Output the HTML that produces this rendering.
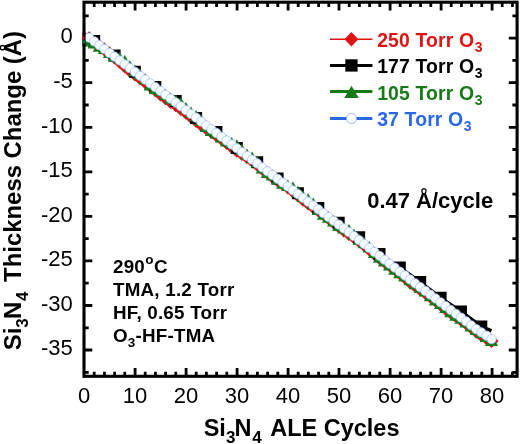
<!DOCTYPE html>
<html lang="en"><head><meta charset="utf-8"><title>Si3N4 ALE</title>
<style>html,body{margin:0;padding:0;background:#fff}svg{display:block}text{font-family:"Liberation Sans",Arial,sans-serif;fill:#000}.b{font-weight:bold}.tk{font-size:22px}</style></head><body>
<svg width="520" height="444" viewBox="0 0 520 444">
<rect width="520" height="444" fill="#fff"/>
<defs><clipPath id="cp"><rect x="82.4" y="0" width="438" height="380"/></clipPath></defs>
<path d="M94.2 2.2v4.7M94.2 376.4v-4.7M104.4 2.2v4.7M104.4 376.4v-4.7M114.6 2.2v4.7M114.6 376.4v-4.7M124.8 2.2v4.7M124.8 376.4v-4.7M135.1 2.2v8.3M135.1 376.4v-8.3M145.2 2.2v4.7M145.2 376.4v-4.7M155.4 2.2v4.7M155.4 376.4v-4.7M165.6 2.2v4.7M165.6 376.4v-4.7M175.8 2.2v4.7M175.8 376.4v-4.7M186.1 2.2v8.3M186.1 376.4v-8.3M196.2 2.2v4.7M196.2 376.4v-4.7M206.4 2.2v4.7M206.4 376.4v-4.7M216.6 2.2v4.7M216.6 376.4v-4.7M226.8 2.2v4.7M226.8 376.4v-4.7M237.1 2.2v8.3M237.1 376.4v-8.3M247.2 2.2v4.7M247.2 376.4v-4.7M257.4 2.2v4.7M257.4 376.4v-4.7M267.6 2.2v4.7M267.6 376.4v-4.7M277.8 2.2v4.7M277.8 376.4v-4.7M288.1 2.2v8.3M288.1 376.4v-8.3M298.2 2.2v4.7M298.2 376.4v-4.7M308.4 2.2v4.7M308.4 376.4v-4.7M318.6 2.2v4.7M318.6 376.4v-4.7M328.8 2.2v4.7M328.8 376.4v-4.7M339.0 2.2v8.3M339.0 376.4v-8.3M349.2 2.2v4.7M349.2 376.4v-4.7M359.4 2.2v4.7M359.4 376.4v-4.7M369.6 2.2v4.7M369.6 376.4v-4.7M379.8 2.2v4.7M379.8 376.4v-4.7M390.1 2.2v8.3M390.1 376.4v-8.3M400.2 2.2v4.7M400.2 376.4v-4.7M410.4 2.2v4.7M410.4 376.4v-4.7M420.6 2.2v4.7M420.6 376.4v-4.7M430.8 2.2v4.7M430.8 376.4v-4.7M441.1 2.2v8.3M441.1 376.4v-8.3M451.2 2.2v4.7M451.2 376.4v-4.7M461.4 2.2v4.7M461.4 376.4v-4.7M471.6 2.2v4.7M471.6 376.4v-4.7M481.8 2.2v4.7M481.8 376.4v-4.7M492.1 2.2v8.3M492.1 376.4v-8.3M502.2 2.2v4.7M502.2 376.4v-4.7M512.4 2.2v4.7M512.4 376.4v-4.7M84.0 372.3h4.7M517.1 372.3h-4.7M84.0 350.0h8.3M517.1 350.0h-8.3M84.0 327.8h4.7M517.1 327.8h-4.7M84.0 305.5h8.3M517.1 305.5h-8.3M84.0 283.2h4.7M517.1 283.2h-4.7M84.0 260.9h8.3M517.1 260.9h-8.3M84.0 238.6h4.7M517.1 238.6h-4.7M84.0 216.4h8.3M517.1 216.4h-8.3M84.0 194.1h4.7M517.1 194.1h-4.7M84.0 171.8h8.3M517.1 171.8h-8.3M84.0 149.5h4.7M517.1 149.5h-4.7M84.0 127.3h8.3M517.1 127.3h-8.3M84.0 105.0h4.7M517.1 105.0h-4.7M84.0 82.7h8.3M517.1 82.7h-8.3M84.0 60.4h4.7M517.1 60.4h-4.7M84.0 38.1h8.3M517.1 38.1h-8.3M84.0 15.9h4.7M517.1 15.9h-4.7" stroke="#000" stroke-width="2.8" fill="none"/>
<g clip-path="url(#cp)">
<polyline points="84.0,37.9 89.1,38.2 94.2,42.1 99.3,45.7 104.4,49.4 109.5,53.3 114.6,57.5 119.7,62.0 124.8,66.5 129.8,70.7 134.9,74.6 140.0,78.3 145.1,82.2 150.2,86.1 155.3,90.3 160.4,94.4 165.5,98.3 170.6,101.9 175.7,105.3 180.8,108.9 185.9,112.8 191.0,117.0 196.1,121.1 201.2,125.0 206.3,128.6 211.4,132.0 216.4,135.4 221.5,139.1 226.6,143.1 231.7,147.0 236.8,150.7 241.9,154.0 247.0,157.2 252.1,160.8 257.2,164.7 262.3,168.9 267.4,173.1 272.5,176.9 277.6,180.5 282.7,183.9 287.8,187.5 292.9,191.4 297.9,195.6 303.0,199.8 308.1,203.6 313.2,207.2 318.3,210.6 323.4,214.2 328.5,218.2 333.6,222.4 338.7,226.5 343.8,230.4 348.9,233.9 354.0,237.4 359.1,241.2 364.2,245.2 369.3,249.6 374.4,254.0 379.5,258.0 384.5,261.8 389.6,265.4 394.7,269.3 399.8,273.4 404.9,277.8 410.0,282.2 415.1,286.1 420.2,289.6 425.3,293.1 430.4,296.7 435.5,300.6 440.6,304.8 445.7,309.0 450.8,312.8 455.9,316.3 461.0,319.8 466.1,323.4 471.1,327.4 476.2,331.6 481.3,335.2 486.4,338.3 491.5,341.0" fill="none" stroke="#de1414" stroke-width="1.5"/>
<path d="M84.0 30.9l7 7l-7 7l-7 -7zM89.1 31.2l7 7l-7 7l-7 -7zM94.2 35.1l7 7l-7 7l-7 -7zM99.3 38.7l7 7l-7 7l-7 -7zM104.4 42.4l7 7l-7 7l-7 -7zM109.5 46.3l7 7l-7 7l-7 -7zM114.6 50.5l7 7l-7 7l-7 -7zM119.7 55.0l7 7l-7 7l-7 -7zM124.8 59.5l7 7l-7 7l-7 -7zM129.8 63.7l7 7l-7 7l-7 -7zM134.9 67.6l7 7l-7 7l-7 -7zM140.0 71.3l7 7l-7 7l-7 -7zM145.1 75.2l7 7l-7 7l-7 -7zM150.2 79.1l7 7l-7 7l-7 -7zM155.3 83.3l7 7l-7 7l-7 -7zM160.4 87.4l7 7l-7 7l-7 -7zM165.5 91.3l7 7l-7 7l-7 -7zM170.6 94.9l7 7l-7 7l-7 -7zM175.7 98.3l7 7l-7 7l-7 -7zM180.8 101.9l7 7l-7 7l-7 -7zM185.9 105.8l7 7l-7 7l-7 -7zM191.0 110.0l7 7l-7 7l-7 -7zM196.1 114.1l7 7l-7 7l-7 -7zM201.2 118.0l7 7l-7 7l-7 -7zM206.3 121.6l7 7l-7 7l-7 -7zM211.4 125.0l7 7l-7 7l-7 -7zM216.4 128.4l7 7l-7 7l-7 -7zM221.5 132.1l7 7l-7 7l-7 -7zM226.6 136.1l7 7l-7 7l-7 -7zM231.7 140.0l7 7l-7 7l-7 -7zM236.8 143.7l7 7l-7 7l-7 -7zM241.9 147.0l7 7l-7 7l-7 -7zM247.0 150.2l7 7l-7 7l-7 -7zM252.1 153.8l7 7l-7 7l-7 -7zM257.2 157.7l7 7l-7 7l-7 -7zM262.3 161.9l7 7l-7 7l-7 -7zM267.4 166.1l7 7l-7 7l-7 -7zM272.5 169.9l7 7l-7 7l-7 -7zM277.6 173.5l7 7l-7 7l-7 -7zM282.7 176.9l7 7l-7 7l-7 -7zM287.8 180.5l7 7l-7 7l-7 -7zM292.9 184.4l7 7l-7 7l-7 -7zM297.9 188.6l7 7l-7 7l-7 -7zM303.0 192.8l7 7l-7 7l-7 -7zM308.1 196.6l7 7l-7 7l-7 -7zM313.2 200.2l7 7l-7 7l-7 -7zM318.3 203.6l7 7l-7 7l-7 -7zM323.4 207.2l7 7l-7 7l-7 -7zM328.5 211.2l7 7l-7 7l-7 -7zM333.6 215.4l7 7l-7 7l-7 -7zM338.7 219.5l7 7l-7 7l-7 -7zM343.8 223.4l7 7l-7 7l-7 -7zM348.9 226.9l7 7l-7 7l-7 -7zM354.0 230.4l7 7l-7 7l-7 -7zM359.1 234.2l7 7l-7 7l-7 -7zM364.2 238.2l7 7l-7 7l-7 -7zM369.3 242.6l7 7l-7 7l-7 -7zM374.4 247.0l7 7l-7 7l-7 -7zM379.5 251.0l7 7l-7 7l-7 -7zM384.5 254.8l7 7l-7 7l-7 -7zM389.6 258.4l7 7l-7 7l-7 -7zM394.7 262.3l7 7l-7 7l-7 -7zM399.8 266.4l7 7l-7 7l-7 -7zM404.9 270.8l7 7l-7 7l-7 -7zM410.0 275.2l7 7l-7 7l-7 -7zM415.1 279.1l7 7l-7 7l-7 -7zM420.2 282.6l7 7l-7 7l-7 -7zM425.3 286.1l7 7l-7 7l-7 -7zM430.4 289.7l7 7l-7 7l-7 -7zM435.5 293.6l7 7l-7 7l-7 -7zM440.6 297.8l7 7l-7 7l-7 -7zM445.7 302.0l7 7l-7 7l-7 -7zM450.8 305.8l7 7l-7 7l-7 -7zM455.9 309.3l7 7l-7 7l-7 -7zM461.0 312.8l7 7l-7 7l-7 -7zM466.1 316.4l7 7l-7 7l-7 -7zM471.1 320.4l7 7l-7 7l-7 -7zM476.2 324.6l7 7l-7 7l-7 -7zM481.3 328.2l7 7l-7 7l-7 -7zM486.4 331.3l7 7l-7 7l-7 -7zM491.5 334.0l7 7l-7 7l-7 -7z" fill="#de1414"/>
<polyline points="84.0,35.4 89.1,38.1 94.2,40.9 99.3,44.5 104.4,48.2 109.5,51.8 114.6,55.5 119.7,59.5 124.8,63.6 129.8,67.7 134.9,71.8 140.0,75.6 145.1,79.3 150.2,83.1 155.3,86.9 160.4,90.4 165.5,94.0 170.6,97.5 175.7,101.1 180.8,105.3 185.9,109.6 191.0,113.9 196.1,118.1 201.2,121.6 206.3,125.0 211.4,128.4 216.4,131.9 221.5,135.9 226.6,140.0 231.7,144.1 236.8,148.1 241.9,151.6 247.0,155.2 252.1,158.7 257.2,162.2 262.3,166.3 267.4,170.4 272.5,174.5 277.6,178.6 282.7,182.3 287.8,186.0 292.9,189.6 297.9,193.3 303.0,197.0 308.1,200.7 313.2,204.4 318.3,208.1 323.4,211.8 328.5,215.4 333.6,219.1 338.7,222.7 343.8,226.4 348.9,230.0 354.0,233.7 359.1,237.3 364.2,241.5 369.3,245.7 374.4,249.9 379.5,254.1 384.5,257.4 389.6,260.8 394.7,264.1 399.8,267.5 404.9,271.1 410.0,274.7 415.1,278.4 420.2,282.0 425.3,286.0 430.4,289.9 435.5,293.9 440.6,297.8 445.7,301.2 450.8,304.6 455.9,308.0 461.0,311.4 466.1,315.1 471.1,318.9 476.2,322.6 481.3,326.4 486.4,328.6 491.5,330.9" fill="none" stroke="#000" stroke-width="3.4"/>
<path d="M88.2 34.9h12v12h-12zM108.6 49.5h12v12h-12zM128.9 65.8h12v12h-12zM149.3 80.9h12v12h-12zM169.7 95.1h12v12h-12zM190.1 112.1h12v12h-12zM210.4 125.9h12v12h-12zM230.8 142.1h12v12h-12zM251.2 156.2h12v12h-12zM271.6 172.6h12v12h-12zM291.9 187.3h12v12h-12zM312.3 202.1h12v12h-12zM332.7 216.7h12v12h-12zM353.1 231.3h12v12h-12zM373.5 248.1h12v12h-12zM393.8 261.5h12v12h-12zM414.2 276.0h12v12h-12zM434.6 291.8h12v12h-12zM455.0 305.4h12v12h-12zM475.3 320.4h12v12h-12z" fill="#000"/>
<polyline points="84.0,40.7 89.1,37.2 94.2,42.8 99.3,46.0 104.4,48.3 109.5,52.2 114.6,55.8 119.7,57.7 124.8,60.6 129.8,65.8 134.9,70.4 140.0,73.8 145.1,78.7 150.2,84.6 155.3,88.1 160.4,90.5 165.5,94.4 170.6,98.2 175.7,100.1 180.8,102.6 185.9,107.6 191.0,112.2 196.1,115.5 201.2,120.2 206.3,126.2 211.4,130.2 216.4,132.7 221.5,136.6 226.6,140.6 231.7,142.6 236.8,144.8 241.9,149.4 247.0,154.0 252.1,157.2 257.2,161.7 262.3,167.8 267.4,172.1 272.5,174.8 277.6,178.8 282.7,183.0 287.8,185.1 292.9,187.0 297.9,191.3 303.0,195.9 308.1,198.9 313.2,203.2 318.3,209.3 323.4,214.0 328.5,216.9 333.6,220.8 338.7,225.3 343.8,227.8 348.9,229.7 354.0,234.1 359.1,238.9 364.2,242.4 369.3,246.7 374.4,252.3 379.5,257.0 384.5,260.6 389.6,264.7 394.7,269.0 399.8,272.5 404.9,275.6 410.0,279.5 415.1,283.5 420.2,287.0 425.3,290.8 430.4,295.4 435.5,299.7 440.6,303.3 445.7,307.2 450.8,311.4 455.9,314.9 461.0,318.0 466.1,321.7 471.1,325.7 476.2,329.2 481.3,332.4 486.4,336.3 491.5,340.1" fill="none" stroke="#177a17" stroke-width="3"/>
<path d="M84.0 35.1l6.6 11.4h-13.2zM89.1 31.6l6.6 11.4h-13.2zM94.2 37.2l6.6 11.4h-13.2zM99.3 40.4l6.6 11.4h-13.2zM104.4 42.7l6.6 11.4h-13.2zM109.5 46.6l6.6 11.4h-13.2zM114.6 50.2l6.6 11.4h-13.2zM119.7 52.1l6.6 11.4h-13.2zM124.8 55.0l6.6 11.4h-13.2zM129.8 60.2l6.6 11.4h-13.2zM134.9 64.8l6.6 11.4h-13.2zM140.0 68.2l6.6 11.4h-13.2zM145.1 73.1l6.6 11.4h-13.2zM150.2 79.0l6.6 11.4h-13.2zM155.3 82.5l6.6 11.4h-13.2zM160.4 84.9l6.6 11.4h-13.2zM165.5 88.8l6.6 11.4h-13.2zM170.6 92.6l6.6 11.4h-13.2zM175.7 94.5l6.6 11.4h-13.2zM180.8 97.0l6.6 11.4h-13.2zM185.9 102.0l6.6 11.4h-13.2zM191.0 106.6l6.6 11.4h-13.2zM196.1 109.9l6.6 11.4h-13.2zM201.2 114.6l6.6 11.4h-13.2zM206.3 120.6l6.6 11.4h-13.2zM211.4 124.6l6.6 11.4h-13.2zM216.4 127.1l6.6 11.4h-13.2zM221.5 131.0l6.6 11.4h-13.2zM226.6 135.0l6.6 11.4h-13.2zM231.7 137.0l6.6 11.4h-13.2zM236.8 139.2l6.6 11.4h-13.2zM241.9 143.8l6.6 11.4h-13.2zM247.0 148.4l6.6 11.4h-13.2zM252.1 151.6l6.6 11.4h-13.2zM257.2 156.1l6.6 11.4h-13.2zM262.3 162.2l6.6 11.4h-13.2zM267.4 166.5l6.6 11.4h-13.2zM272.5 169.2l6.6 11.4h-13.2zM277.6 173.2l6.6 11.4h-13.2zM282.7 177.4l6.6 11.4h-13.2zM287.8 179.5l6.6 11.4h-13.2zM292.9 181.4l6.6 11.4h-13.2zM297.9 185.7l6.6 11.4h-13.2zM303.0 190.3l6.6 11.4h-13.2zM308.1 193.3l6.6 11.4h-13.2zM313.2 197.6l6.6 11.4h-13.2zM318.3 203.7l6.6 11.4h-13.2zM323.4 208.4l6.6 11.4h-13.2zM328.5 211.3l6.6 11.4h-13.2zM333.6 215.2l6.6 11.4h-13.2zM338.7 219.7l6.6 11.4h-13.2zM343.8 222.2l6.6 11.4h-13.2zM348.9 224.1l6.6 11.4h-13.2zM354.0 228.5l6.6 11.4h-13.2zM359.1 233.3l6.6 11.4h-13.2zM364.2 236.8l6.6 11.4h-13.2zM369.3 241.1l6.6 11.4h-13.2zM374.4 246.7l6.6 11.4h-13.2zM379.5 251.4l6.6 11.4h-13.2zM384.5 255.0l6.6 11.4h-13.2zM389.6 259.1l6.6 11.4h-13.2zM394.7 263.4l6.6 11.4h-13.2zM399.8 266.9l6.6 11.4h-13.2zM404.9 270.0l6.6 11.4h-13.2zM410.0 273.9l6.6 11.4h-13.2zM415.1 277.9l6.6 11.4h-13.2zM420.2 281.4l6.6 11.4h-13.2zM425.3 285.2l6.6 11.4h-13.2zM430.4 289.8l6.6 11.4h-13.2zM435.5 294.1l6.6 11.4h-13.2zM440.6 297.7l6.6 11.4h-13.2zM445.7 301.6l6.6 11.4h-13.2zM450.8 305.8l6.6 11.4h-13.2zM455.9 309.3l6.6 11.4h-13.2zM461.0 312.4l6.6 11.4h-13.2zM466.1 316.1l6.6 11.4h-13.2zM471.1 320.1l6.6 11.4h-13.2zM476.2 323.6l6.6 11.4h-13.2zM481.3 326.8l6.6 11.4h-13.2zM486.4 330.7l6.6 11.4h-13.2zM491.5 334.5l6.6 11.4h-13.2z" fill="#177a17"/>
<polyline points="89.1,37.6 94.2,41.4 99.3,45.2 104.4,49.0 109.5,52.9 114.6,56.7 119.7,60.5 124.8,64.3 129.8,68.1 134.9,71.9 140.0,75.8 145.1,79.6 150.2,83.4 155.3,87.2 160.4,91.0 165.5,94.8 170.6,98.7 175.7,102.5 180.8,106.3 185.9,110.1 191.0,113.9 196.1,117.7 201.2,121.6 206.3,125.4 211.4,129.2 216.4,133.0 221.5,136.8 226.6,140.6 231.7,144.5 236.8,148.3 241.9,152.1 247.0,155.9 252.1,159.7 257.2,163.5 262.3,167.4 267.4,171.2 272.5,175.0 277.6,178.8 282.7,182.6 287.8,186.4 292.9,190.3 297.9,194.1 303.0,197.9 308.1,201.7 313.2,205.5 318.3,209.3 323.4,213.1 328.5,217.0 333.6,220.8 338.7,224.6 343.8,228.4 348.9,232.2 354.0,236.2 359.1,240.1 364.2,244.0 369.3,248.0 374.4,251.9 379.5,255.8 384.5,259.8 389.6,263.7 394.7,267.6 399.8,271.6 404.9,275.5 410.0,279.5 415.1,283.3 420.2,287.1 425.3,290.9 430.4,294.7 435.5,298.5 440.6,302.4 445.7,306.2 450.8,310.0 455.9,313.8 461.0,317.6 466.1,321.4 471.1,325.3 476.2,329.1 481.3,332.4 486.4,335.7 491.5,339.1" fill="none" stroke="#2868e6" stroke-width="3"/>
<g fill="#f3fcff" stroke="#aab6ff" stroke-width="0.7">
<circle cx="89.1" cy="37.6" r="4.65"/>
<circle cx="94.2" cy="41.4" r="4.65"/>
<circle cx="99.3" cy="45.2" r="4.65"/>
<circle cx="104.4" cy="49.0" r="4.65"/>
<circle cx="109.5" cy="52.9" r="4.65"/>
<circle cx="114.6" cy="56.7" r="4.65"/>
<circle cx="119.7" cy="60.5" r="4.65"/>
<circle cx="124.8" cy="64.3" r="4.65"/>
<circle cx="129.8" cy="68.1" r="4.65"/>
<circle cx="134.9" cy="71.9" r="4.65"/>
<circle cx="140.0" cy="75.8" r="4.65"/>
<circle cx="145.1" cy="79.6" r="4.65"/>
<circle cx="150.2" cy="83.4" r="4.65"/>
<circle cx="155.3" cy="87.2" r="4.65"/>
<circle cx="160.4" cy="91.0" r="4.65"/>
<circle cx="165.5" cy="94.8" r="4.65"/>
<circle cx="170.6" cy="98.7" r="4.65"/>
<circle cx="175.7" cy="102.5" r="4.65"/>
<circle cx="180.8" cy="106.3" r="4.65"/>
<circle cx="185.9" cy="110.1" r="4.65"/>
<circle cx="191.0" cy="113.9" r="4.65"/>
<circle cx="196.1" cy="117.7" r="4.65"/>
<circle cx="201.2" cy="121.6" r="4.65"/>
<circle cx="206.3" cy="125.4" r="4.65"/>
<circle cx="211.4" cy="129.2" r="4.65"/>
<circle cx="216.4" cy="133.0" r="4.65"/>
<circle cx="221.5" cy="136.8" r="4.65"/>
<circle cx="226.6" cy="140.6" r="4.65"/>
<circle cx="231.7" cy="144.5" r="4.65"/>
<circle cx="236.8" cy="148.3" r="4.65"/>
<circle cx="241.9" cy="152.1" r="4.65"/>
<circle cx="247.0" cy="155.9" r="4.65"/>
<circle cx="252.1" cy="159.7" r="4.65"/>
<circle cx="257.2" cy="163.5" r="4.65"/>
<circle cx="262.3" cy="167.4" r="4.65"/>
<circle cx="267.4" cy="171.2" r="4.65"/>
<circle cx="272.5" cy="175.0" r="4.65"/>
<circle cx="277.6" cy="178.8" r="4.65"/>
<circle cx="282.7" cy="182.6" r="4.65"/>
<circle cx="287.8" cy="186.4" r="4.65"/>
<circle cx="292.9" cy="190.3" r="4.65"/>
<circle cx="297.9" cy="194.1" r="4.65"/>
<circle cx="303.0" cy="197.9" r="4.65"/>
<circle cx="308.1" cy="201.7" r="4.65"/>
<circle cx="313.2" cy="205.5" r="4.65"/>
<circle cx="318.3" cy="209.3" r="4.65"/>
<circle cx="323.4" cy="213.1" r="4.65"/>
<circle cx="328.5" cy="217.0" r="4.65"/>
<circle cx="333.6" cy="220.8" r="4.65"/>
<circle cx="338.7" cy="224.6" r="4.65"/>
<circle cx="343.8" cy="228.4" r="4.65"/>
<circle cx="348.9" cy="232.2" r="4.65"/>
<circle cx="354.0" cy="236.2" r="4.65"/>
<circle cx="359.1" cy="240.1" r="4.65"/>
<circle cx="364.2" cy="244.0" r="4.65"/>
<circle cx="369.3" cy="248.0" r="4.65"/>
<circle cx="374.4" cy="251.9" r="4.65"/>
<circle cx="379.5" cy="255.8" r="4.65"/>
<circle cx="384.5" cy="259.8" r="4.65"/>
<circle cx="389.6" cy="263.7" r="4.65"/>
<circle cx="394.7" cy="267.6" r="4.65"/>
<circle cx="399.8" cy="271.6" r="4.65"/>
<circle cx="404.9" cy="275.5" r="4.65"/>
<circle cx="410.0" cy="279.5" r="4.65"/>
<circle cx="415.1" cy="283.3" r="4.65"/>
<circle cx="420.2" cy="287.1" r="4.65"/>
<circle cx="425.3" cy="290.9" r="4.65"/>
<circle cx="430.4" cy="294.7" r="4.65"/>
<circle cx="435.5" cy="298.5" r="4.65"/>
<circle cx="440.6" cy="302.4" r="4.65"/>
<circle cx="445.7" cy="306.2" r="4.65"/>
<circle cx="450.8" cy="310.0" r="4.65"/>
<circle cx="455.9" cy="313.8" r="4.65"/>
<circle cx="461.0" cy="317.6" r="4.65"/>
<circle cx="466.1" cy="321.4" r="4.65"/>
<circle cx="471.1" cy="325.3" r="4.65"/>
<circle cx="476.2" cy="329.1" r="4.65"/>
<circle cx="481.3" cy="332.4" r="4.65"/>
<circle cx="486.4" cy="335.7" r="4.65"/>
<circle cx="491.5" cy="339.1" r="4.65"/>
</g></g>
<rect x="84.0" y="2.2" width="433.1" height="374.1" fill="none" stroke="#000" stroke-width="3.1"/>
<rect x="82.3" y="36.2" width="1.9" height="3.4" fill="#c4122c"/><rect x="82.4" y="40.3" width="3" height="3.2" fill="#0c6c2a"/>
<g class="tk" text-anchor="middle">
<text x="84.0" y="402.6">0</text>
<text x="135.1" y="402.6">10</text>
<text x="186.1" y="402.6">20</text>
<text x="237.1" y="402.6">30</text>
<text x="288.1" y="402.6">40</text>
<text x="339.0" y="402.6">50</text>
<text x="390.1" y="402.6">60</text>
<text x="441.1" y="402.6">70</text>
<text x="492.1" y="402.6">80</text>
</g><g class="tk" text-anchor="end">
<text x="72.8" y="43.4">0</text>
<text x="72.8" y="88.0">-5</text>
<text x="72.8" y="132.6">-10</text>
<text x="72.8" y="177.1">-15</text>
<text x="72.8" y="221.7">-20</text>
<text x="72.8" y="266.2">-25</text>
<text x="72.8" y="310.8">-30</text>
<text x="72.8" y="355.3">-35</text>
</g>
<text class="b" x="203.7" y="436.2" font-size="23.50">Si<tspan font-size="17" dy="6.8" dx="0">3</tspan><tspan dy="-6.8" dx="-0.8">N</tspan><tspan font-size="17" dy="6.8" dx="0.8">4</tspan><tspan dy="-6.8" dx="2.7"> ALE Cycles</tspan></text>
<text class="b" x="20.8" y="350.3" font-size="23.90" transform="rotate(-90 20.8 350.3)">Si<tspan font-size="17" dy="6.8" dx="0">3</tspan><tspan dy="-6.8" dx="-0.8">N</tspan><tspan font-size="17" dy="6.8" dx="0.8">4</tspan><tspan dy="-6.8" dx="3.0"> Thickness Change (Å)</tspan></text>
<path d="M330 39.2H372.4" stroke="#de1414" stroke-width="1.5"/>
<path d="M351.4 32.0l7 7.2l-7 7.2l-7 -7.2z" fill="#de1414"/>
<text class="b" x="377.2" y="47.1" font-size="19.4" letter-spacing="0.15" style="fill:#de1414">250 Torr O<tspan font-size="14" dy="5" dx="0.5">3</tspan></text>
<path d="M330 65.4H372.4" stroke="#000" stroke-width="3.0"/>
<rect x="345.3" y="59.3" width="12.3" height="12.3" fill="#000"/>
<text class="b" x="377.2" y="73.1" font-size="19.4" letter-spacing="0.15" style="fill:#000">177 Torr O<tspan font-size="14" dy="5" dx="0.5">3</tspan></text>
<path d="M330 91.5H372.4" stroke="#177a17" stroke-width="3.0"/>
<path d="M351.5 85.8l7.3 12.2h-14.6z" fill="#177a17"/>
<text class="b" x="377.2" y="99.8" font-size="19.4" letter-spacing="0.15" style="fill:#177a17">105 Torr O<tspan font-size="14" dy="5" dx="0.5">3</tspan></text>
<path d="M330 118.5H372.4" stroke="#2868e6" stroke-width="3.0"/>
<circle cx="351.5" cy="118.5" r="5" fill="#fff" stroke="#93a9ff" stroke-width="0.9"/>
<text class="b" x="377.2" y="126.0" font-size="19.4" letter-spacing="0.15" style="fill:#2868e6">37 Torr O<tspan font-size="14" dy="5" dx="0.5">3</tspan></text>
<text class="b" x="367.2" y="207.8" font-size="22">0.47 Å/cycle</text>
<g class="b" font-size="18.8" letter-spacing="0.22">
<text x="113.0" y="273.1">290<tspan font-size="13.5" dy="-8.8" dx="0.3">o</tspan><tspan dy="8.8" dx="0.3">C</tspan></text>
<text x="113.0" y="296.1">TMA, 1.2 Torr</text>
<text x="113.0" y="319.2">HF, 0.65 Torr</text>
<text x="113.0" y="342.3">O<tspan font-size="13.5" dy="5">3</tspan><tspan dy="-5">-HF-TMA</tspan></text>
</g>
</svg></body></html>
